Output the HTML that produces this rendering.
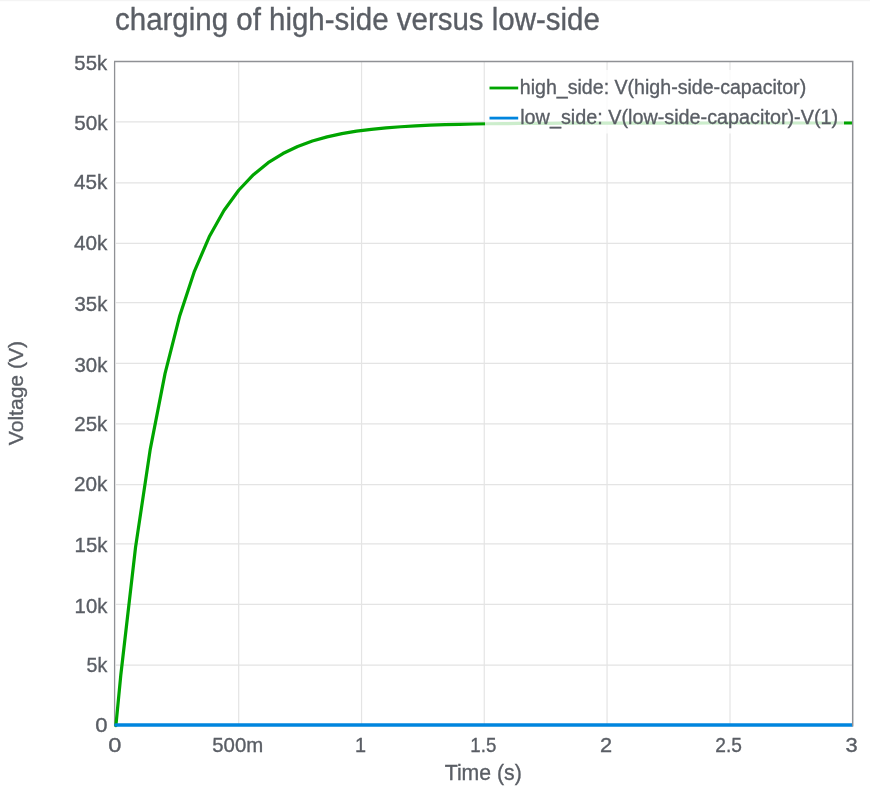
<!DOCTYPE html><html><head><meta charset="utf-8"><style>html,body{margin:0;padding:0;background:#fff;}body{width:870px;height:792px;overflow:hidden;position:relative;}svg{display:block;will-change:transform;font-family:"Liberation Sans",sans-serif;}</style></head><body>
<svg width="870" height="792" viewBox="0 0 870 792">
<rect x="0" y="0" width="870" height="792" fill="#fff"/>
<rect x="0" y="0" width="870" height="1.2" fill="#f4f4f4"/>
<path d="M115.90 121.90H852.70M115.90 182.90H852.70M115.90 243.40H852.70M115.90 302.55H852.70M115.90 363.30H852.70M115.90 423.90H852.70M115.90 484.60H852.70M115.90 543.85H852.70M115.90 604.45H852.70M115.90 665.20H852.70M238.70 61.50V725.60M361.55 61.50V725.60M484.25 61.50V725.60M607.05 61.50V725.60M730.00 61.50V725.60" stroke="#e4e4e4" stroke-width="1.2" fill="none"/>
<path d="M114.60 61.50V726.60" stroke="#8f9195" stroke-width="1.3" fill="none"/>
<defs><clipPath id="pc"><rect x="0" y="0" width="852.70" height="792"/></clipPath></defs><g clip-path="url(#pc)">
<polyline points="115.90,725.60 120.81,674.99 135.55,547.27 150.28,449.11 165.02,373.66 179.76,315.66 194.49,271.08 209.23,236.82 223.96,210.49 238.70,190.25 253.44,174.69 268.17,162.73 282.91,153.54 297.64,146.48 312.38,141.05 327.12,136.87 341.85,133.66 356.59,131.20 371.32,129.30 386.06,127.85 400.80,126.73 415.53,125.87 430.27,125.20 445.00,124.70 459.74,124.31 474.48,124.01 489.21,123.77 503.95,123.60 518.68,123.46 533.42,123.36 548.16,123.28 562.89,123.21 577.63,123.17 592.36,123.13 607.10,123.10 621.84,123.08 636.57,123.06 651.31,123.05 666.04,123.04 680.78,123.03 695.52,123.03 710.25,123.02 724.99,123.02 739.72,123.02 754.46,123.01 769.20,123.01 783.93,123.01 798.67,123.01 813.40,123.01 828.14,123.01 842.88,123.01 852.70,123.01" stroke="#00a500" stroke-width="3.2" fill="none" stroke-linejoin="round" stroke-linecap="round"/>
<path d="M115.90 725.00H854.70" stroke="#0085de" stroke-width="3.4" fill="none" stroke-linecap="round"/>
</g>
<path d="M114.00 61.50H852.70V726.60" stroke="#8f9195" stroke-width="1.5" fill="none"/>
<rect x="485" y="70" width="359" height="63.5" fill="#fff" fill-opacity="0.8"/>
<path d="M489.5 88H518.2" stroke="#00a500" stroke-width="2.8"/>
<path d="M489.5 118.1H518.2" stroke="#0085de" stroke-width="2.8"/>
<text x="115.0" y="30.2" font-size="31" fill="#5a5e65" textLength="484.907" lengthAdjust="spacingAndGlyphs" stroke="#5a5e65" stroke-width="0.35">charging of high-side versus low-side</text>
<text x="444.73" y="779.6" font-size="21.3" fill="#5a5e65" textLength="77.025" lengthAdjust="spacingAndGlyphs" stroke="#5a5e65" stroke-width="0.35">Time (s)</text>
<text x="519.75" y="93.8" font-size="20.5" fill="#5a5e65" textLength="286.428" lengthAdjust="spacingAndGlyphs" stroke="#5a5e65" stroke-width="0.35">high_side: V(high-side-capacitor)</text>
<text x="520.2" y="123.8" font-size="20.5" fill="#5a5e65" textLength="317.892" lengthAdjust="spacingAndGlyphs" stroke="#5a5e65" stroke-width="0.35">low_side: V(low-side-capacitor)-V(1)</text>
<text x="22.7" y="445.2" font-size="21" fill="#5a5e65" textLength="104.209" lengthAdjust="spacingAndGlyphs" stroke="#5a5e65" stroke-width="0.35" transform="rotate(-90 22.7 445.2)">Voltage (V)</text>
<text x="74.38" y="69.77" font-size="20.2" fill="#5a5e65" textLength="32.78" lengthAdjust="spacingAndGlyphs" stroke="#5a5e65" stroke-width="0.35">55k</text>
<text x="74.2" y="130.15" font-size="20.2" fill="#5a5e65" textLength="33.305" lengthAdjust="spacingAndGlyphs" stroke="#5a5e65" stroke-width="0.35">50k</text>
<text x="73.95" y="189.18" font-size="20.2" fill="#5a5e65" textLength="33.317" lengthAdjust="spacingAndGlyphs" stroke="#5a5e65" stroke-width="0.35">45k</text>
<text x="73.95" y="250.16" font-size="20.2" fill="#5a5e65" textLength="33.345" lengthAdjust="spacingAndGlyphs" stroke="#5a5e65" stroke-width="0.35">40k</text>
<text x="74.55" y="311.09" font-size="20.2" fill="#5a5e65" textLength="32.799" lengthAdjust="spacingAndGlyphs" stroke="#5a5e65" stroke-width="0.35">35k</text>
<text x="74.55" y="371.82" font-size="20.2" fill="#5a5e65" textLength="32.799" lengthAdjust="spacingAndGlyphs" stroke="#5a5e65" stroke-width="0.35">30k</text>
<text x="74.3" y="430.85" font-size="20.2" fill="#5a5e65" textLength="33.046" lengthAdjust="spacingAndGlyphs" stroke="#5a5e65" stroke-width="0.35">25k</text>
<text x="73.95" y="491.48" font-size="20.2" fill="#5a5e65" textLength="33.404" lengthAdjust="spacingAndGlyphs" stroke="#5a5e65" stroke-width="0.35">20k</text>
<text x="74.6" y="552.41" font-size="20.2" fill="#5a5e65" textLength="32.832" lengthAdjust="spacingAndGlyphs" stroke="#5a5e65" stroke-width="0.35">15k</text>
<text x="74.6" y="613.09" font-size="20.2" fill="#5a5e65" textLength="32.735" lengthAdjust="spacingAndGlyphs" stroke="#5a5e65" stroke-width="0.35">10k</text>
<text x="86.55" y="672.02" font-size="20.2" fill="#5a5e65" textLength="20.77" lengthAdjust="spacingAndGlyphs" stroke="#5a5e65" stroke-width="0.35">5k</text>
<text x="95.2" y="732.25" font-size="20.2" fill="#5a5e65" textLength="12.311" lengthAdjust="spacingAndGlyphs" stroke="#5a5e65" stroke-width="0.35">0</text>
<text x="108.25" y="752.1" font-size="20.2" fill="#5a5e65" textLength="13.139" lengthAdjust="spacingAndGlyphs" stroke="#5a5e65" stroke-width="0.35">0</text>
<text x="212.25" y="752.1" font-size="20.2" fill="#5a5e65" textLength="50.957" lengthAdjust="spacingAndGlyphs" stroke="#5a5e65" stroke-width="0.35">500m</text>
<text x="354.95" y="751.85" font-size="20.2" fill="#5a5e65" textLength="11.062" lengthAdjust="spacingAndGlyphs" stroke="#5a5e65" stroke-width="0.35">1</text>
<text x="470.3" y="751.85" font-size="20.2" fill="#5a5e65" textLength="26.021" lengthAdjust="spacingAndGlyphs" stroke="#5a5e65" stroke-width="0.35">1.5</text>
<text x="600.0" y="752.1" font-size="20.2" fill="#5a5e65" textLength="12.122" lengthAdjust="spacingAndGlyphs" stroke="#5a5e65" stroke-width="0.35">2</text>
<text x="715.3" y="752.1" font-size="20.2" fill="#5a5e65" textLength="26.612" lengthAdjust="spacingAndGlyphs" stroke="#5a5e65" stroke-width="0.35">2.5</text>
<text x="845.4" y="752.1" font-size="20.2" fill="#5a5e65" textLength="12.189" lengthAdjust="spacingAndGlyphs" stroke="#5a5e65" stroke-width="0.35">3</text>
</svg></body></html>
